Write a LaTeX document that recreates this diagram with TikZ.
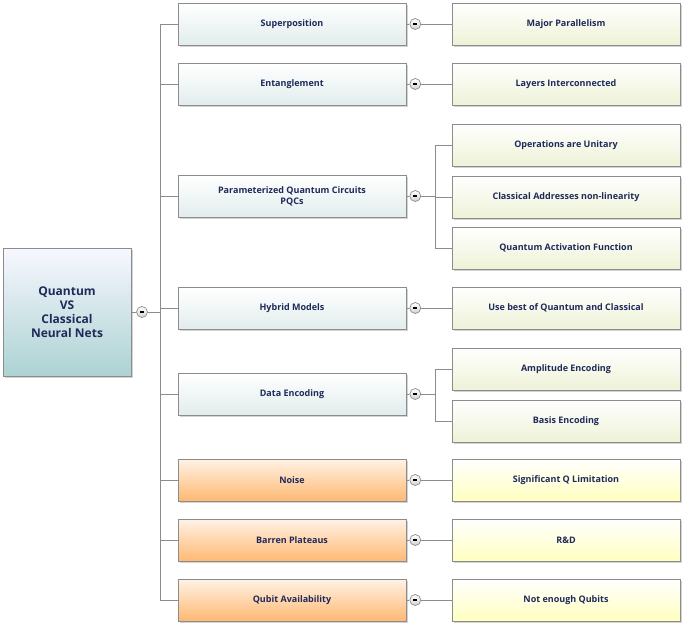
\documentclass[tikz,border=0pt]{standalone}
\usepackage{fontspec}
\setmainfont{Open Sans}
\usetikzlibrary{shadows,positioning}
\definecolor{ink}{HTML}{1F2A5A}
\definecolor{edge}{HTML}{8C8C8C}
\tikzset{
  box/.style={draw=edge, line width=0.8pt, minimum width=228pt, minimum height=42pt,
    align=center, text=ink, font=\bfseries\small,
    drop shadow={shadow xshift=1.5pt, shadow yshift=-1.5pt, opacity=0.35}},
  topic/.style={box, top color=white, bottom color=teal!25!white!85!gray!40},
  leaf/.style={box, top color=white, bottom color=green!15!yellow!12!white!90!gray},
  risk/.style={box, top color=orange!10!white, bottom color=orange!55!white},
  note/.style={box, top color=white, bottom color=yellow!25!white},
  knob/.style={circle, draw=edge, line width=0.7pt, minimum size=11pt, inner sep=0pt,
    top color=white, bottom color=gray!35,
    path picture={\fill[black] ([xshift=-2pt,yshift=-0.6pt]path picture bounding box.center) rectangle ([xshift=2pt,yshift=0.6pt]path picture bounding box.center);}},
  link/.style={draw=edge, line width=0.9pt}
}
\begin{document}
\begin{tikzpicture}[x=1pt, y=-1pt]
\useasboundingbox (0,0) rectangle (685,629);
% root
\node[box, minimum width=128pt, minimum height=128pt, top color=blue!3!white, bottom color=cyan!30!gray!50!white, font=\bfseries\large] (root) at (67,312) {Quantum\\VS\\Classical\\Neural Nets};
\node[knob] (kroot) at (142,312) {};
\draw[link] (root.east) -- (kroot);
\coordinate (trunk) at (160,312);
\draw[link] (kroot) -- (trunk);

% first level
\node[topic] (sup) at (292,24) {Superposition};
\node[topic] (ent) at (292,84) {Entanglement};
\node[topic] (pqc) at (292,196) {Parameterized Quantum Circuits\\PQCs};
\node[topic] (hyb) at (292,308) {Hybrid Models};
\node[topic] (enc) at (292,394) {Data Encoding};
\node[risk] (noise) at (292,480) {Noise};
\node[risk] (barren) at (292,540) {Barren Plateaus};
\node[risk] (qubit) at (292,600) {Qubit Availability};

% second level
\node[leaf] (par) at (566,24) {Major Parallelism};
\node[leaf] (lay) at (566,84) {Layers Interconnected};
\node[leaf] (uni) at (566,145) {Operations are Unitary};
\node[leaf] (nonlin) at (566,197) {Classical Addresses non-linearity};
\node[leaf] (act) at (566,248) {Quantum Activation Function};
\node[leaf] (best) at (566,308) {Use best of Quantum and Classical};
\node[leaf] (amp) at (566,369) {Amplitude Encoding};
\node[leaf] (basis) at (566,421) {Basis Encoding};
\node[note] (limit) at (566,480) {Significant Q Limitation};
\node[note] (rd) at (566,540) {R\&D};
\node[note] (few) at (566,600) {Not enough Qubits};

% trunk to topics
\foreach \t in {sup,ent,pqc,hyb,enc,noise,barren,qubit}
  \draw[link] (trunk) |- (\t.west);

% knobs and leaves
\foreach \t/\l in {sup/par,ent/lay,hyb/best,noise/limit,barren/rd,qubit/few}{
  \node[knob, right=3pt of \t] (k\t) {};
  \draw[link] (\t.east) -- (k\t);
  \draw[link] (k\t) -- (\l.west);
}
\node[knob, right=3pt of pqc] (kpqc) {};
\draw[link] (pqc.east) -- (kpqc);
\coordinate (fpqc) at (435,196);
\draw[link] (kpqc) -- (fpqc);
\foreach \l in {uni,nonlin,act}
  \draw[link] (fpqc) |- (\l.west);
\node[knob, right=3pt of enc] (kenc) {};
\draw[link] (enc.east) -- (kenc);
\coordinate (fenc) at (435,394);
\draw[link] (kenc) -- (fenc);
\foreach \l in {amp,basis}
  \draw[link] (fenc) |- (\l.west);
\end{tikzpicture}
\end{document}
